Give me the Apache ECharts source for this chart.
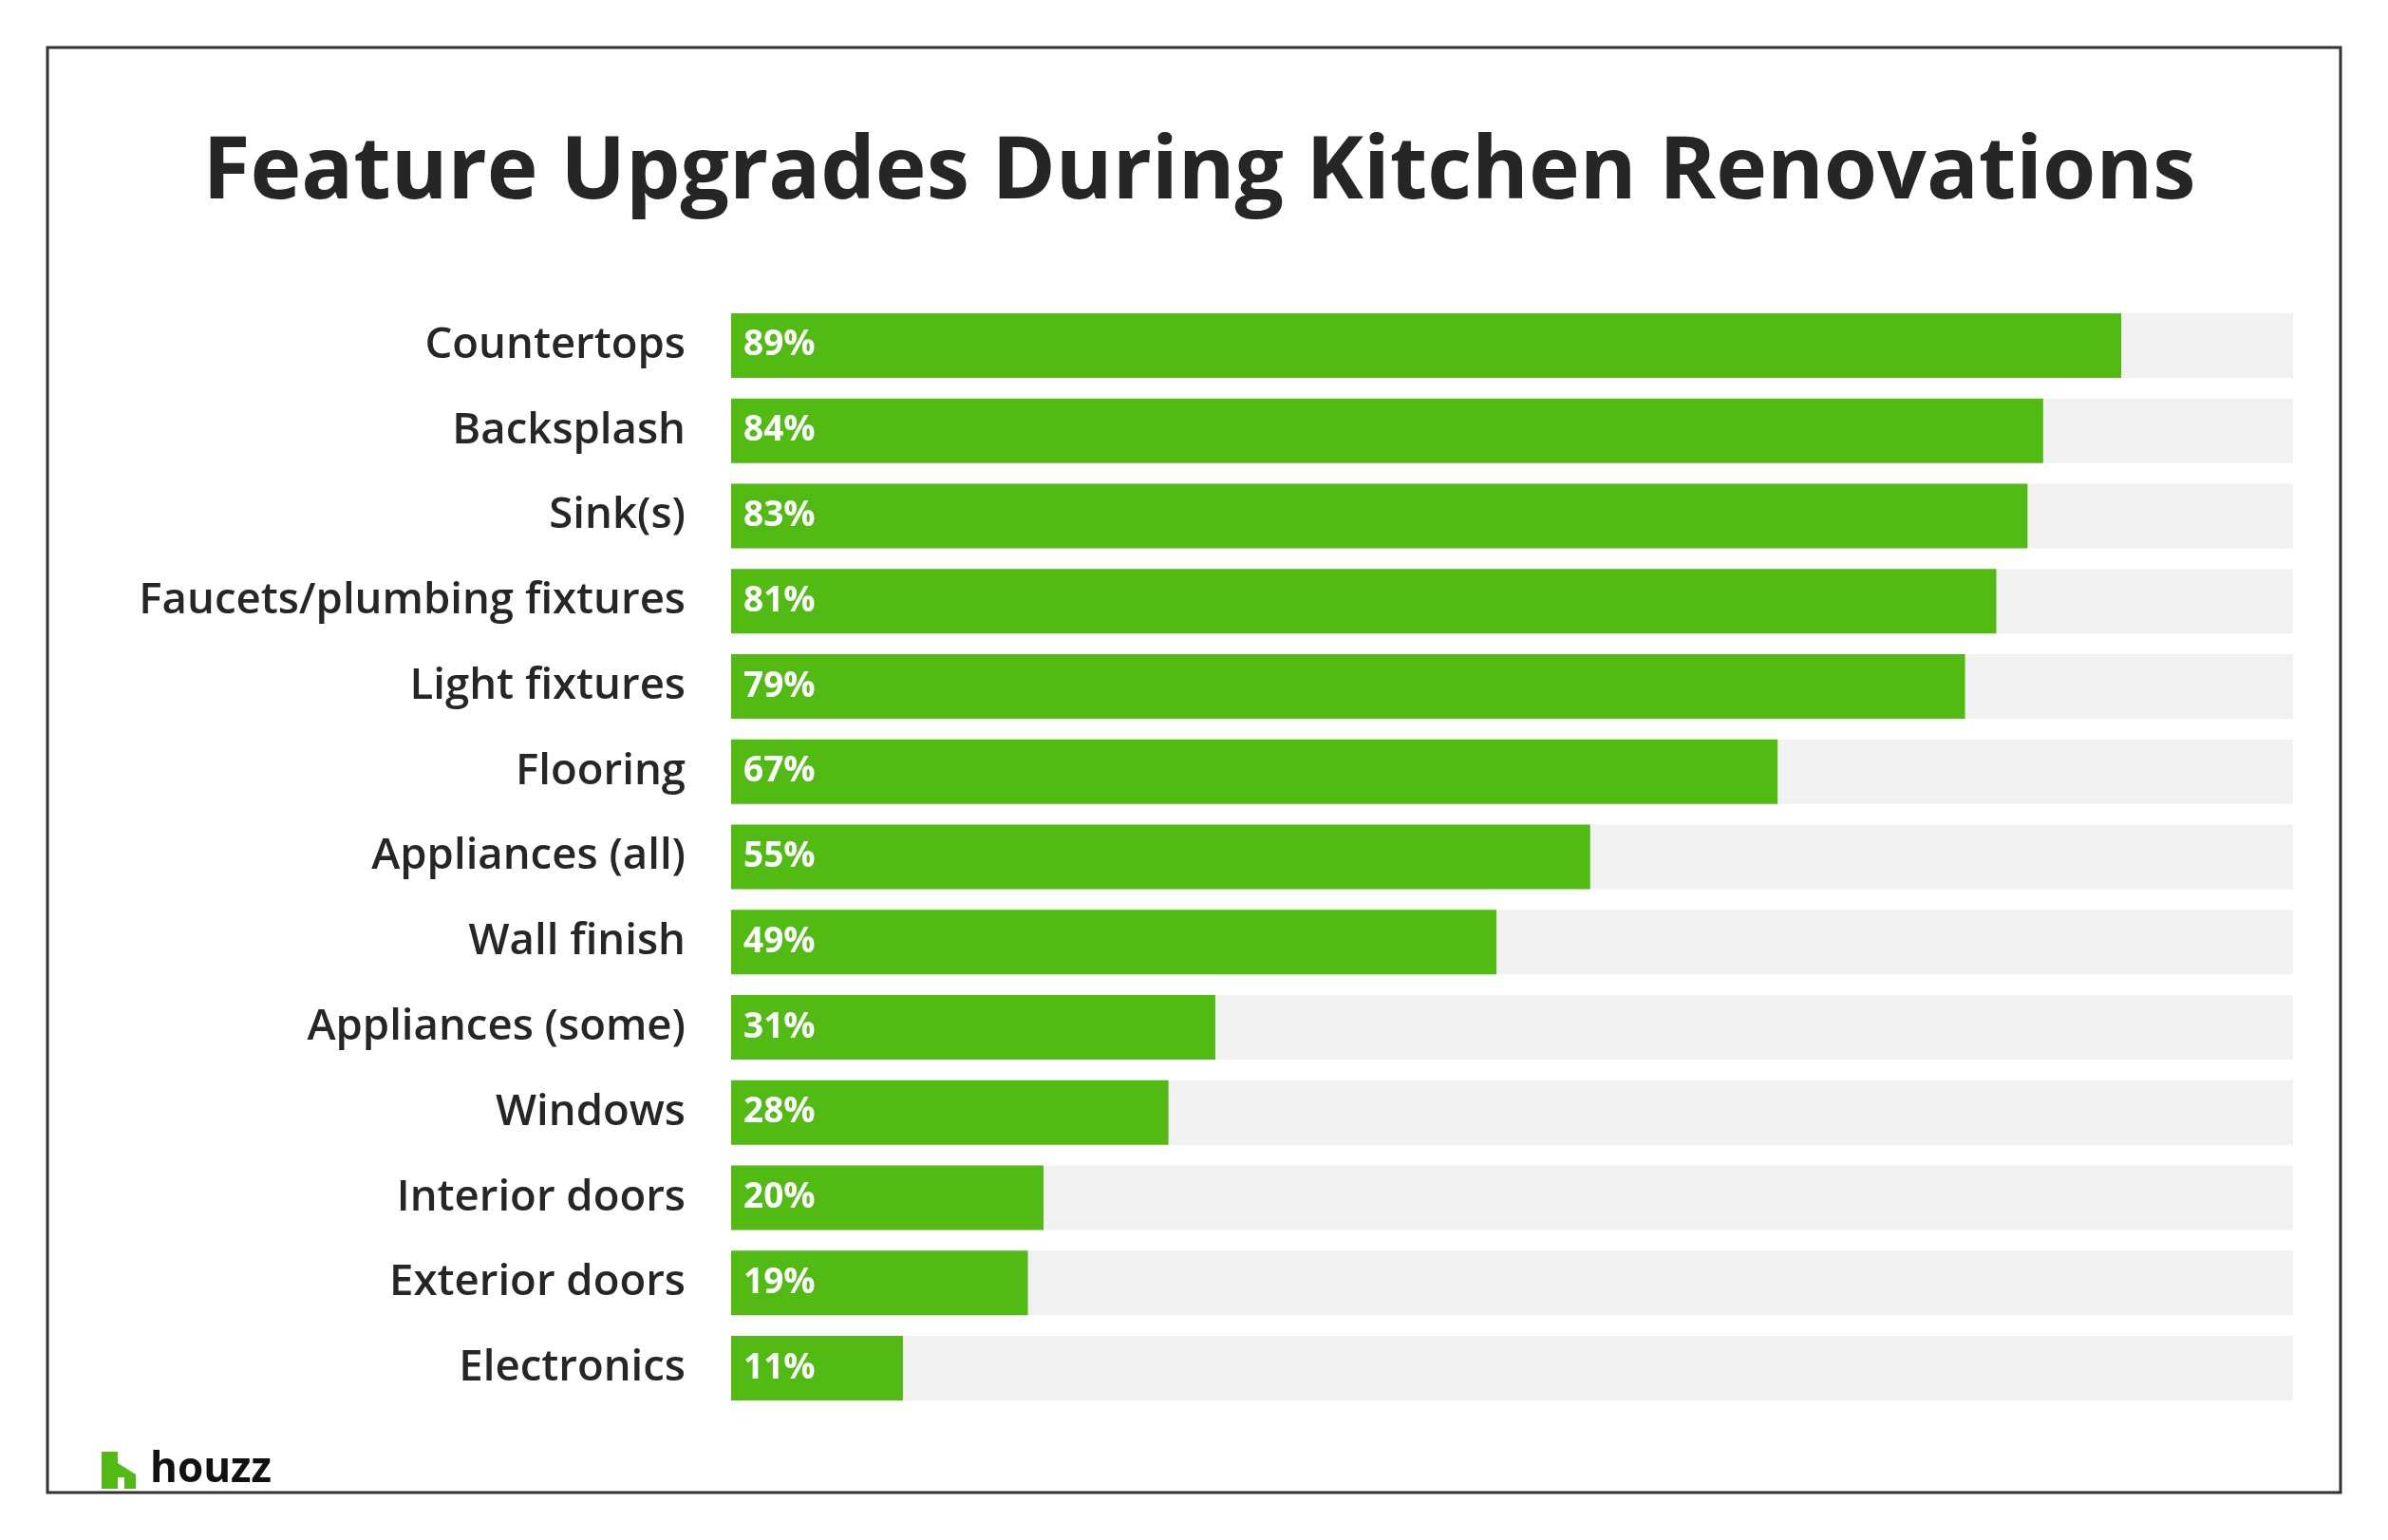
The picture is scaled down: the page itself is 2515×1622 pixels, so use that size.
<!DOCTYPE html>
<html><head><meta charset="utf-8">
<script src="https://cdn.jsdelivr.net/npm/echarts@6/dist/echarts.min.js"></script>
<style>html,body{margin:0;padding:0;background:#fff}#c{width:2515px;height:1622px}</style>
</head><body><div id="c"></div>
<script>
const categories = ["Countertops","Backsplash","Sink(s)","Faucets/plumbing fixtures","Light fixtures","Flooring","Appliances (all)","Wall finish","Appliances (some)","Windows","Interior doors","Exterior doors","Electronics"];
const values = [89,84,83,81,79,67,55,49,31,28,20,19,11];
const titleText = "Feature Upgrades During Kitchen Renovations";
const brandText = "houzz";

const chart = echarts.init(document.getElementById('c'));
const FONT = '"Open Sans", Lato, sans-serif';
chart.setOption({
  backgroundColor: '#ffffff',
  animation: false,
  grid: {left: 770, right: 100, top: 319, bottom: 136},
  xAxis: {type: 'value', min: 0, max: 100, show: false},
  yAxis: {
    type: 'category', data: categories, inverse: true,
    axisLine: {show: false}, axisTick: {show: false}, splitLine: {show: false},
    axisLabel: {color: '#262626', fontSize: 45.5, fontFamily: FONT, fontWeight: 600, margin: 48}
  },
  series: [{
    type: 'bar', data: values, barWidth: 68,
    itemStyle: {color: '#51BB14'},
    showBackground: true,
    backgroundStyle: {color: '#F1F1F1'},
    label: {show: true, position: 'insideLeft', distance: 13,
      formatter: p => p.value + '%', color: '#ffffff', fontSize: 37, fontWeight: 'bold', fontFamily: FONT}
  }],
  graphic: [
    {type: 'rect', shape: {x: 50, y: 50, width: 2415, height: 1522},
      style: {fill: 'none', stroke: '#333333', lineWidth: 3}, silent: true},
    {type: 'text', x: 1263, y: 183, style: {text: titleText, fontSize: 91, fontWeight: 'bold', fontFamily: FONT,
      fill: '#262626', align: 'center', verticalAlign: 'middle'}},
    {type: 'polygon', shape: {points: [[107,1529],[124,1529],[124,1541],[143,1553],[143,1568],[131,1568],[131,1556],[124,1556],[124,1568],[107,1568]]},
      style: {fill: '#51BB14'}},
    {type: 'text', x: 158, y: 1570, style: {text: brandText, fontSize: 44, fontWeight: 'bold', fontFamily: FONT,
      fill: '#111111', align: 'left', verticalAlign: 'bottom'}}
  ]
});
</script></body></html>
